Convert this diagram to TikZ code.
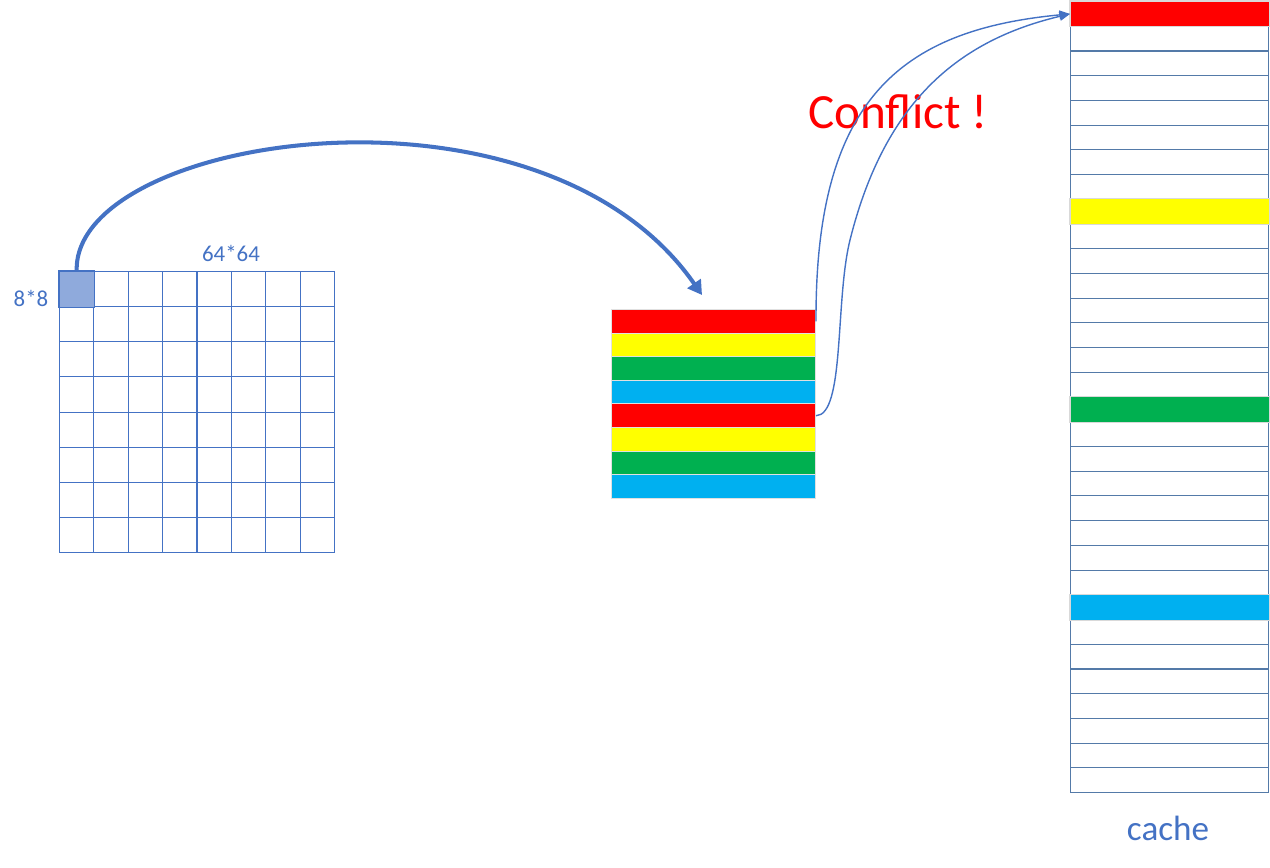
\documentclass[tikz,border=0pt]{standalone}
\usepackage{fontspec}
\setmainfont{Carlito}
\usetikzlibrary{arrows.meta}
\definecolor{accent}{RGB}{68,114,196}
\definecolor{cellfill}{RGB}{143,170,220}
\definecolor{lineblue}{RGB}{84,122,168}
\definecolor{cred}{RGB}{255,0,0}
\definecolor{cyel}{RGB}{255,255,0}
\definecolor{cgrn}{RGB}{0,176,80}
\definecolor{cblu}{RGB}{0,176,240}
\begin{document}
\begin{tikzpicture}[x=0.02cm,y=-0.02cm,
    every node/.style={inner sep=0pt},
    cell/.style={draw=accent, line width=0.6pt, minimum width=0.6875cm, minimum height=0.7025cm, anchor=north west},
    blk/.style={draw=black!12, line width=0.6pt, minimum width=4.08cm, minimum height=0.472cm, anchor=north west},
    cacheline/.style={draw=lineblue, line width=0.6pt, minimum width=3.96cm, minimum height=0.4944cm, anchor=north west},
    lbl/.style={text=accent, font=\fontsize{13pt}{15pt}\selectfont},
    bigarrow/.style={draw=accent, line width=2.3pt, -{Triangle[length=8pt,width=9pt]}},
    thinarrow/.style={draw=accent, line width=0.8pt, -{Triangle[length=6pt,width=5pt]}}]
\useasboundingbox (0,0) rectangle (1270,867);
% 64*64 matrix of 8*8 blocks
\foreach \r in {0,...,7}
  \foreach \c in {0,...,7}
    \node[cell] (g\r\c) at ({59+\c*34.375},{271+\r*35.125}) {};
\fill[cellfill, draw=accent, line width=0.6pt] (g00.north west) rectangle (g00.south east);
\node[lbl] (size) at (231,253) {64*64};
\node[lbl] (blksize) at (31,298) {8*8};
% block rows
\foreach \col [count=\i] in {cred,cyel,cgrn,cblu,cred,cyel,cgrn,cblu}
  \node[blk, fill=\col] (b\i) at (611,{309+(\i-1)*23.6}) {};
% cache
\foreach \i in {0,...,31}
  \node[cacheline] (c\i) at (1070,{1+\i*24.72}) {};
\foreach \i/\col in {0/cred,8/cyel,16/cgrn,24/cblu}
  \fill[\col, draw=black!15, line width=0.6pt] (c\i.north west) rectangle (c\i.south east);
\node[text=accent, font=\fontsize{20pt}{24pt}\selectfont] (cachelbl) at (1168,828) {cache};
\node[text=cred, font=\fontsize{28pt}{32pt}\selectfont] (conflict) at (898,112) {Conflict !};
% arrows
\coordinate (tip) at (702,295);
\draw[bigarrow] (g00.north) .. controls (72,135) and (540,62) .. (tip);
\draw[thinarrow] (b1.east) .. controls (815,100) and (900,30) .. (c0.west);
\draw[thinarrow] (b5.east) .. controls (845,415) and (835,300) .. (850,240)
  .. controls (885,100) and (960,40) .. (c0.west);
\end{tikzpicture}
\end{document}
